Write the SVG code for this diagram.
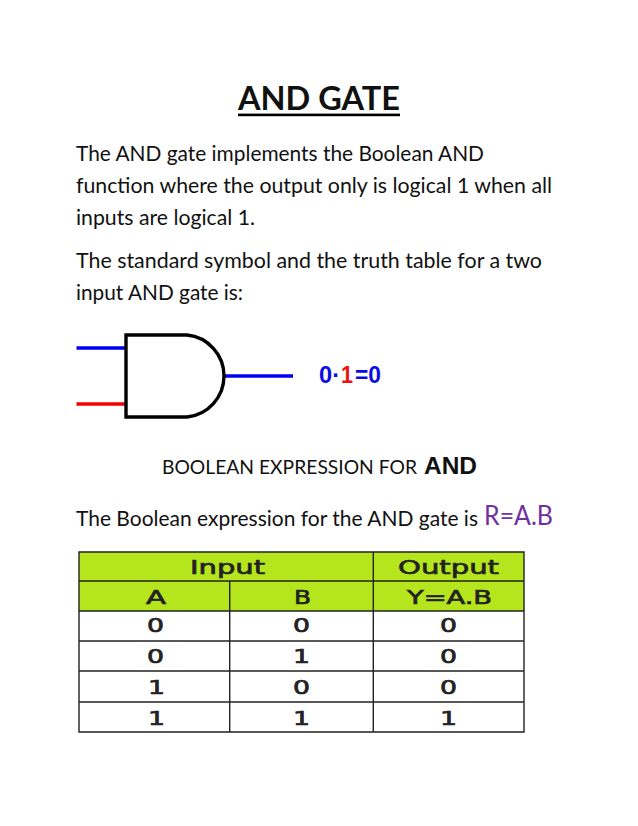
<svg xmlns="http://www.w3.org/2000/svg" width="638" height="826" viewBox="0 0 638 826">
<style>
.b{font-family:"Lato","Noto Sans",sans-serif;font-size:21px;fill:#111}
.t{font-family:"DejaVu Sans",sans-serif;font-weight:400;font-size:19px;fill:#222;stroke:#222;stroke-width:.7;text-anchor:start}
.e{font-family:"Liberation Sans",sans-serif;font-weight:700;font-size:23px}
.g{fill:#b5e61d;stroke:none}
.l{stroke:#222;stroke-width:1.4;fill:none}
.w{fill:none;stroke-width:3.5}
</style>
<rect width="638" height="826" fill="#fff"/>
<g id="title">
<text x="238" y="110" class="b" style="font-size:33px;font-weight:700" textLength="162" lengthAdjust="spacingAndGlyphs">AND GATE</text>
<rect x="238" y="113.6" width="162" height="2.6" fill="#000"/>
</g>
<g id="intro">
<text class="b" x="76" y="161" textLength="408" lengthAdjust="spacingAndGlyphs">The AND gate implements the Boolean AND</text>
<text class="b" x="76" y="193" textLength="476" lengthAdjust="spacingAndGlyphs">function where the output only is logical 1 when all</text>
<text class="b" x="76" y="225" textLength="179" lengthAdjust="spacingAndGlyphs">inputs are logical 1.</text>
<text class="b" x="76" y="268" textLength="466" lengthAdjust="spacingAndGlyphs">The standard symbol and the truth table for a two</text>
<text class="b" x="76" y="300" textLength="167" lengthAdjust="spacingAndGlyphs">input AND gate is:</text>
</g>
<g id="connectors">
<line class="w" stroke="#0000f0" x1="76.5" y1="348" x2="126" y2="348"/>
<line class="w" stroke="#f00000" x1="76.5" y1="404" x2="126" y2="404"/>
<line class="w" stroke="#0000f0" x1="224" y1="376" x2="293" y2="376"/>
</g>
<g id="and-gate">
<path d="M126 335H187C208 337 224 355 224 376C224 397 208 415 187 417H126Z" fill="#fff" stroke="#000" stroke-width="3.4"/>
</g>
<g id="equation">
<text class="e" x="319" y="383" fill="#0a0ae6" textLength="21" lengthAdjust="spacingAndGlyphs">0·</text>
<text class="e" x="341" y="383" fill="#ee1111" textLength="12" lengthAdjust="spacingAndGlyphs">1</text>
<text class="e" x="355" y="383" fill="#0a0ae6" textLength="26" lengthAdjust="spacingAndGlyphs">=0</text>
</g>
<g id="expression">
<text class="b" x="162" y="474" style="font-size:20px" textLength="255" lengthAdjust="spacingAndGlyphs">BOOLEAN EXPRESSION FOR</text>
<text x="424" y="474" style="font-family:'Liberation Sans',sans-serif;font-weight:700;font-size:24px" fill="#111" textLength="53" lengthAdjust="spacingAndGlyphs">AND</text>
<text class="b" x="76" y="526" textLength="402" lengthAdjust="spacingAndGlyphs">The Boolean expression for the AND gate is</text>
<text x="484" y="525" style="font-family:'Lato',sans-serif;font-size:26px" fill="#7030a0" textLength="69" lengthAdjust="spacingAndGlyphs">R=A.B</text>
</g>
<g id="truth-table">
<rect class="g" x="79" y="552" width="445" height="59"/>
<path class="l" d="M79 552H524V732H79ZM79 581H524M79 611H524M79 641H524M79 671H524M79 702H524M373.300 552V732M229.700 581V732"/>
<text class="t" x="190" y="574" style="font-size:20px" textLength="75" lengthAdjust="spacingAndGlyphs">Input</text>
<text class="t" x="398" y="574" style="font-size:20px" textLength="101" lengthAdjust="spacingAndGlyphs">Output</text>
<text class="t" x="146" y="604" textLength="20" lengthAdjust="spacingAndGlyphs">A</text>
<text class="t" x="294" y="604" textLength="17" lengthAdjust="spacingAndGlyphs">B</text>
<text class="t" x="407" y="604" textLength="85" lengthAdjust="spacingAndGlyphs">Y=A.B</text>
<text class="t" x="147" y="632" textLength="17" lengthAdjust="spacingAndGlyphs">0</text>
<text class="t" x="293" y="632" textLength="17" lengthAdjust="spacingAndGlyphs">0</text>
<text class="t" x="440" y="632" textLength="17" lengthAdjust="spacingAndGlyphs">0</text>
<text class="t" x="147" y="663" textLength="17" lengthAdjust="spacingAndGlyphs">0</text>
<text class="t" x="293" y="663" textLength="17" lengthAdjust="spacingAndGlyphs">1</text>
<text class="t" x="440" y="663" textLength="17" lengthAdjust="spacingAndGlyphs">0</text>
<text class="t" x="148" y="694" textLength="17" lengthAdjust="spacingAndGlyphs">1</text>
<text class="t" x="293" y="694" textLength="17" lengthAdjust="spacingAndGlyphs">0</text>
<text class="t" x="440" y="694" textLength="17" lengthAdjust="spacingAndGlyphs">0</text>
<text class="t" x="148" y="725" textLength="17" lengthAdjust="spacingAndGlyphs">1</text>
<text class="t" x="293" y="725" textLength="17" lengthAdjust="spacingAndGlyphs">1</text>
<text class="t" x="440" y="725" textLength="17" lengthAdjust="spacingAndGlyphs">1</text>
</g>
</svg>
